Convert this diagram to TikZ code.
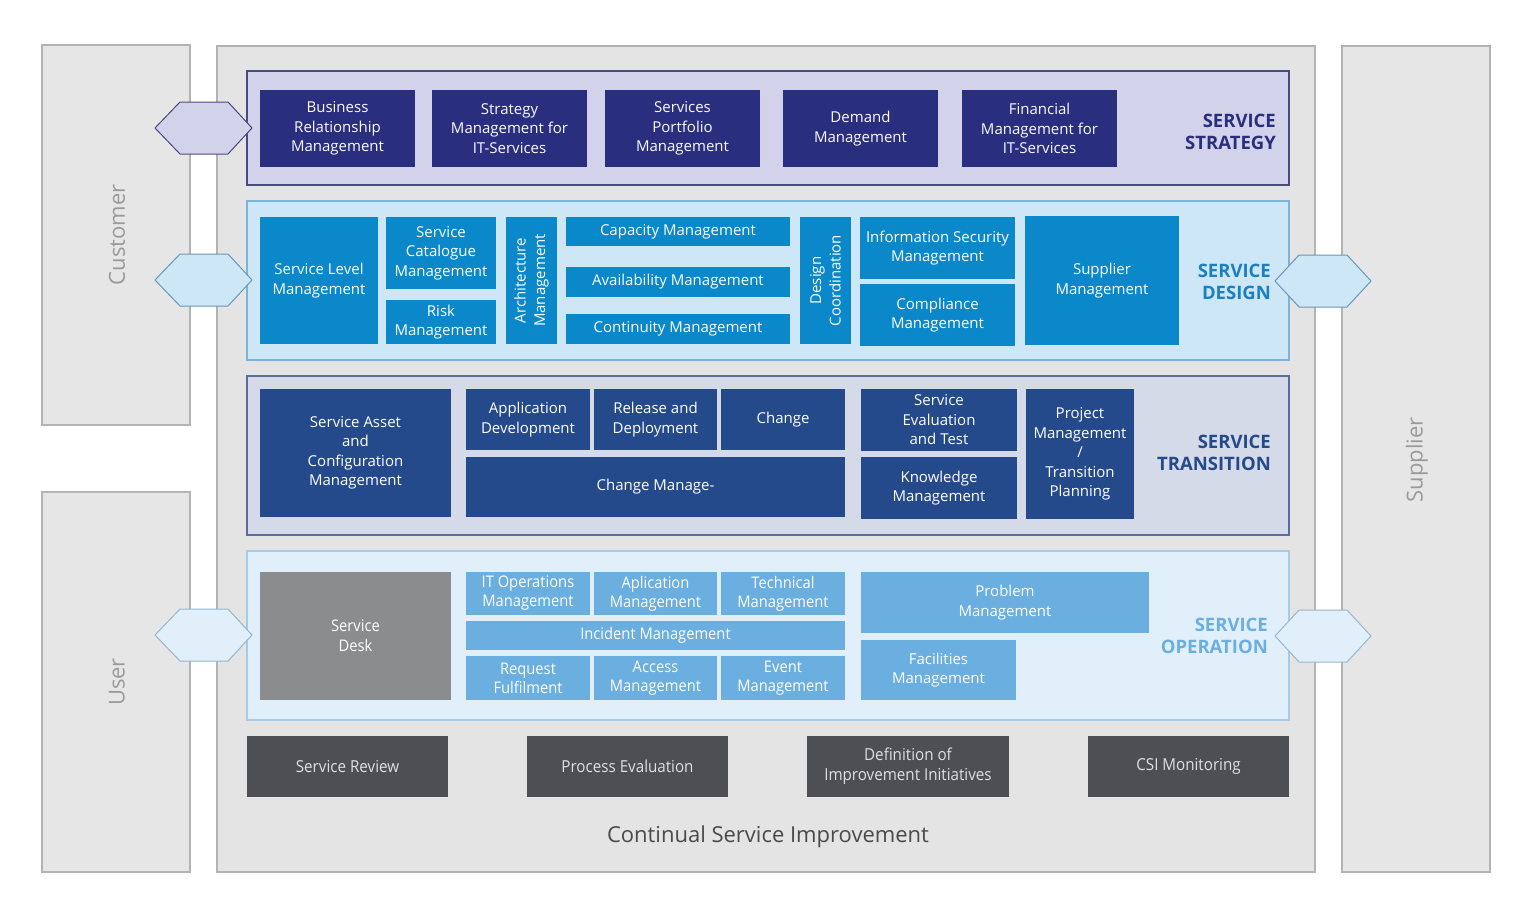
\documentclass[tikz,border=0pt]{standalone}
\usepackage{fontspec}
\setmainfont{Open Sans}
\newfontfamily\condfont[FakeStretch=0.92]{Open Sans}

\definecolor{sidegray}{HTML}{E6E6E6}
\definecolor{sideline}{HTML}{B3B3B3}
\definecolor{sidetext}{HTML}{9A9A9A}
\definecolor{csiback}{HTML}{E4E4E4}
\definecolor{stratband}{HTML}{D2D2EA}
\definecolor{stratline}{HTML}{4A4A82}
\definecolor{stratbox}{HTML}{2A2E7E}
\definecolor{desband}{HTML}{CDE7F6}
\definecolor{desline}{HTML}{7DB2DA}
\definecolor{desbox}{HTML}{0A88CA}
\definecolor{desttl}{HTML}{1A80C1}
\definecolor{transband}{HTML}{D4DAE7}
\definecolor{transline}{HTML}{5C6C9C}
\definecolor{transbox}{HTML}{244A8B}
\definecolor{opband}{HTML}{E1EFFA}
\definecolor{opline}{HTML}{A6CBE8}
\definecolor{opbox}{HTML}{6BAEE0}
\definecolor{deskgray}{HTML}{8B8C8E}
\definecolor{csibox}{HTML}{4E4F53}
\definecolor{csitext}{HTML}{4A4A4A}

\tikzset{
  proc/.style={inner sep=0pt, align=center, text=white,
    font=\fontsize{15}{19.5}\selectfont},
  stratproc/.style={proc, fill=stratbox, text=white!92!stratband},
  desproc/.style={proc, fill=desbox},
  transproc/.style={proc, fill=transbox},
  opproc/.style={proc, fill=opbox, font=\condfont\fontsize{16}{19}\selectfont},
  csiproc/.style={proc, fill=csibox, text=white!88!black,
    font=\condfont\fontsize{16.5}{20}\selectfont},
  side/.style={fill=sidegray, draw=sideline, line width=1.2pt},
  sidelabel/.style={text=sidetext, rotate=90, font=\fontsize{22}{26}\selectfont},
  phasettl/.style={anchor=east, inner sep=0pt, align=right, font=\bfseries\fontsize{18.5}{22}\selectfont},
  hexstrat/.style={fill=stratband, draw=stratline, line width=1pt},
  hexdes/.style={fill=desband, draw=desline!85!black, line width=1pt},
  hexop/.style={fill=opband, draw=opline!90!black, line width=1pt}
}

\begin{document}
\begin{tikzpicture}[x=1pt, y=-1pt]
  \useasboundingbox[fill=white] (0,0) rectangle (1536,921);

  % customer, user, supplier and CSI frame
  \node[side, minimum width=148, minimum height=380] (cust) at (116,235) {};
    \node[sidelabel] (custlbl) at (117,235) {Customer};
  \node[side, minimum width=148, minimum height=380] (user) at (116,682) {};
    \node[sidelabel] (userlbl) at (117,682) {User};
  \node[side, minimum width=148, minimum height=826] (supp) at (1416,459) {};
    \node[sidelabel] (supplbl) at (1417,460) {Supplier};
  \node[fill=csiback, draw=sideline, line width=1.2pt, minimum width=1098, minimum height=826] (csi) at (766,459) {};

  % phase bands
  \node[fill=stratband, draw=stratline, line width=1.3pt, minimum width=1042, minimum height=114] (strat) at (768,128) {};
  \node[fill=desband, draw=desline, line width=1.3pt, minimum width=1042, minimum height=159] (des) at (768,280.5) {};
  \node[fill=transband, draw=transline, line width=1.3pt, minimum width=1042, minimum height=159] (trans) at (768,455.5) {};
  \node[fill=opband, draw=opline, line width=1.3pt, minimum width=1042, minimum height=169] (oper) at (768,635.5) {};

  % service strategy
  \node[stratproc, minimum width=155, minimum height=77] (brm) at (337.5,128.5) {Business\\Relationship\\Management};
  \node[stratproc, minimum width=155, minimum height=77] (smit) at (509.5,128.5) {Strategy\\Management for\\IT-Services};
  \node[stratproc, minimum width=155, minimum height=77] (spm) at (682.5,128.5) {Services\\Portfolio\\Management};
  \node[stratproc, minimum width=155, minimum height=77] (dem) at (860.5,128.5) {Demand\\Management};
  \node[stratproc, minimum width=155, minimum height=77] (fin) at (1039.5,128.5) {Financial\\Management for\\IT-Services};
    \node[phasettl, text=stratbox] (strattl) at (1276,132) {SERVICE\\STRATEGY};

  % service design
  \node[desproc, minimum width=118, minimum height=127] (slm) at (319,280.5) {Service Level\\Management};
  \node[desproc, minimum width=110, minimum height=72] (scm) at (441,253) {Service\\Catalogue\\Management};
  \node[desproc, minimum width=110, minimum height=44] (risk) at (441,322) {Risk\\Management};
  \node[desproc, rotate=90, minimum width=127, minimum height=51] (arch) at (531.5,280.5) {Architecture\\Management};
  \node[desproc, minimum width=224, minimum height=29] (cap) at (678,231.5) {Capacity Management};
  \node[desproc, minimum width=224, minimum height=30] (avail) at (678,282) {Availability Management};
  \node[desproc, minimum width=224, minimum height=30] (cont) at (678,329) {Continuity Management};
  \node[desproc, rotate=90, minimum width=127, minimum height=51] (dco) at (825.5,280.5) {Design\\Coordination};
  \node[desproc, minimum width=155, minimum height=62] (isec) at (937.5,248) {Information Security\\Management};
  \node[desproc, minimum width=155, minimum height=62] (comp) at (937.5,315) {Compliance\\Management};
  \node[desproc, minimum width=154, minimum height=129] (supm) at (1102,280.5) {Supplier\\Management};
    \node[phasettl, text=desttl] (desttl) at (1271,282) {SERVICE\\DESIGN};

  % service transition
  \node[transproc, minimum width=191, minimum height=128] (sacm) at (355.5,453) {Service Asset\\and\\Configuration\\Management};
  \node[transproc, minimum width=124, minimum height=61] (appdev) at (528,419.5) {Application\\Development};
  \node[transproc, minimum width=123, minimum height=61] (rel) at (655.5,419.5) {Release and\\Deployment};
  \node[transproc, minimum width=124, minimum height=61] (chg) at (783,419.5) {Change};
  \node[transproc, minimum width=379, minimum height=60] (chm) at (655.5,487) {Change Manage-};
  \node[transproc, minimum width=156, minimum height=62] (sevt) at (939,420) {Service\\Evaluation\\and Test};
  \node[transproc, minimum width=156, minimum height=62] (know) at (939,488) {Knowledge\\Management};
  \node[transproc, minimum width=108, minimum height=130] (pmtp) at (1080,454) {Project\\Management\\/\\Transition\\Planning};
    \node[phasettl, text=transbox] (transttl) at (1271,453) {SERVICE\\TRANSITION};

  % service operation
  \node[proc, fill=deskgray, font=\condfont\fontsize{16}{20}\selectfont, minimum width=191, minimum height=128] (desk) at (355.5,636) {Service\\Desk};
  \node[opproc, minimum width=124, minimum height=43] (itops) at (528,593.5) {IT Operations\\Management};
  \node[opproc, minimum width=123, minimum height=43] (aplm) at (655.5,593.5) {Aplication\\Management};
  \node[opproc, minimum width=124, minimum height=43] (tech) at (783,593.5) {Technical\\Management};
  \node[opproc, minimum width=379, minimum height=29] (inc) at (655.5,635.5) {Incident Management};
  \node[opproc, minimum width=124, minimum height=44] (req) at (528,678) {Request\\Fulfilment};
  \node[opproc, minimum width=123, minimum height=44] (acc) at (655.5,678) {Access\\Management};
  \node[opproc, minimum width=124, minimum height=44] (evt) at (783,678) {Event\\Management};
  \node[opproc, font=\fontsize{15}{19.5}\selectfont, minimum width=288, minimum height=61] (prob) at (1005,602.5) {Problem\\Management};
  \node[opproc, font=\fontsize{15}{19.5}\selectfont, minimum width=155, minimum height=60] (fac) at (938.5,670) {Facilities\\Management};
    \node[phasettl, text=opbox] (opttl) at (1268,636) {SERVICE\\OPERATION};

  % continual service improvement
  \node[csiproc, minimum width=201, minimum height=61] (srev) at (347.5,766.5) {Service Review};
  \node[csiproc, minimum width=201, minimum height=61] (peval) at (627.5,766.5) {Process Evaluation};
  \node[csiproc, minimum width=202, minimum height=61] (defi) at (908,766.5) {Definition of\\Improvement Initiatives};
  \node[csiproc, minimum width=201, minimum height=61] (csim) at (1188.5,766.5) {CSI Monitoring};
    \node[text=csitext, font=\fontsize{22}{28}\selectfont] (csittl) at (768,837) {Continual Service Improvement};

  % interface hexagons
  \draw[hexstrat] (155,128) -- ++(25,-26) -- ++(48,0) -- ++(24,26) -- ++(-24,26) -- ++(-48,0) -- cycle;
  \draw[hexdes] (155,280) -- ++(25,-26) -- ++(48,0) -- ++(24,26) -- ++(-24,26) -- ++(-48,0) -- cycle;
  \draw[hexop] (155,635) -- ++(25,-26) -- ++(48,0) -- ++(24,26) -- ++(-24,26) -- ++(-48,0) -- cycle;
  \draw[hexdes] (1275,281) -- ++(24,-26) -- ++(48,0) -- ++(24,26) -- ++(-24,26) -- ++(-48,0) -- cycle;
  \draw[hexop] (1275,636) -- ++(24,-26) -- ++(48,0) -- ++(24,26) -- ++(-24,26) -- ++(-48,0) -- cycle;

\end{tikzpicture}
\end{document}
